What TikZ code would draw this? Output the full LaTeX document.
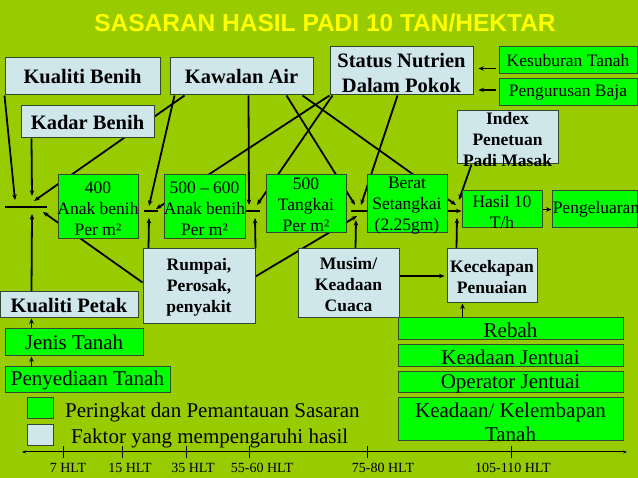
\documentclass[tikz,border=0pt]{standalone}
\usepackage{fontspec}
\setmainfont{Liberation Serif}
\newfontfamily\arialf{Liberation Sans}
\usetikzlibrary{calc,arrows.meta}
\pgfdeclarelayer{back}
\pgfdeclarelayer{lines}
\pgfsetlayers{back,lines,main}
\definecolor{bgc}{HTML}{99CC00}
\definecolor{gfill}{HTML}{00FF00}
\definecolor{bfill}{HTML}{CFE6EB}
\definecolor{edgec}{HTML}{2F4A2F}
\definecolor{ttl}{HTML}{FFFF00}
\begin{document}
\begin{tikzpicture}[x=1pt,y=-1pt,
  gbox/.style={draw=edgec, fill=gfill, line width=1pt, inner sep=0pt},
  bbox/.style={draw=edgec, fill=bfill, line width=1pt, inner sep=0pt},
  sz/.style 2 args={minimum width=#1pt, minimum height=#2pt},
  gt/.style={align=center, inner sep=0pt, font=\fontsize{17.5}{21}\selectfont},
  gtl/.style={align=center, inner sep=0pt, font=\fontsize{21}{24}\selectfont},
  bt/.style={align=center, inner sep=0pt, font=\bfseries\fontsize{20.5}{25}\selectfont},
  bts/.style={align=center, inner sep=0pt, font=\bfseries\fontsize{17.5}{21}\selectfont},
  con/.style={line width=1.8pt, black},
  arr/.style={con, -{Stealth[length=5.5pt,width=4.5pt]}},
  tick/.style={line width=1pt, black},
  tlab/.style={anchor=base, inner sep=0pt, font=\fontsize{14}{16}\selectfont},
]
\useasboundingbox (0,0) rectangle (638,478);
\begin{pgfonlayer}{back}
\fill[bgc] (0,0) rectangle (638,478);
\end{pgfonlayer}

% title
\node[font=\arialf\bfseries\fontsize{24.5}{28}\selectfont, text=ttl, inner sep=0pt] (title) at (325,23) {SASARAN HASIL PADI 10 TAN/HEKTAR};

% top factor boxes
\node[bbox,sz={155}{37}] (kb) at (82.5,76.5) {};
\node[bt] (kbT) at (kb.center) {Kualiti Benih};
\node[bbox,sz={143}{37}] (ka) at (241.5,76.5) {};
\node[bt] (kaT) at (ka.center) {Kawalan Air};
\node[bbox,sz={143}{48}] (sn) at (401.5,71) {};
\node[bt] (snT) at (401.5,73) {Status Nutrien\\Dalam Pokok};
\node[gbox,sz={138}{27}] (kt) at (568,60.5) {};
\node[gt] (ktT) at (kt.center) {Kesuburan Tanah};
\node[gbox,sz={138}{27}] (pb) at (568,92.5) {};
\node[gt] (pbT) at (pb.center) {Pengurusan Baja};
\node[bbox,sz={133}{32}] (kd) at (87.5,122) {};
\node[bt] (kdT) at (kd.center) {Kadar Benih};
\node[bbox,sz={101}{53}] (ip) at (507.5,137.5) {};
\node[bts] (ipT) at (507.5,140) {Index\\Penetuan\\Padi Masak};

% middle row
\node[gbox,sz={80}{64}] (b400) at (98,207) {};
\node[gt] (b400T) at (98,208.5) {400\\Anak benih\\Per m²};
\node[gbox,sz={81}{64}] (b560) at (204.5,207) {};
\node[gt] (b560T) at (204.5,208.5) {500 – 600\\Anak benih\\Per m²};
\node[gbox,sz={80}{58}] (b500) at (306,204) {};
\node[gt] (b500T) at (306,205) {500\\Tangkai\\Per m²};
\node[gbox,sz={80}{58}] (berat) at (407,204) {};
\node[gt] (beratT) at (407,206) {Berat\\Setangkai\\(2.25gm)};
\node[gbox,sz={80}{37}] (hasil) at (502,209.5) {};
\node[gt] (hasilT) at (502,212.5) {Hasil 10\\T/h};
\node[gbox,sz={85}{37}] (peng) at (594.5,209.5) {};
\node[gt] (pengT) at (596,209.5) {Pengeluaran};

% lower factor boxes
\node[bbox,sz={112}{75}] (rumpai) at (199,286.5) {};
\node[bts] (rumpaiT) at (199,287) {Rumpai,\\Perosak,\\penyakit};
\node[bbox,sz={101}{69}] (musim) at (348.5,283.5) {};
\node[bts] (musimT) at (348.5,285) {Musim/\\Keadaan\\Cuaca};
\node[bbox,sz={90}{54}] (kecek) at (492,276) {};
\node[bts] (kecekT) at (492,277.5) {Kecekapan\\Penuaian};
\node[bbox,sz={138}{26}] (kp) at (69,305) {};
\node[bt] (kpT) at (69,305.5) {Kualiti Petak};
\node[gbox,sz={138}{27}] (jt) at (74,342.5) {};
\node[gtl] (jtT) at (jt.center) {Jenis Tanah};
\node[gbox,sz={165}{26}] (pt) at (87.5,380) {};
\node[gtl] (ptT) at (pt.center) {Penyediaan Tanah};

% harvest boxes
\node[gbox,sz={225}{22}] (rebah) at (510.5,329) {};
\node[gtl] (rebahT) at (510.5,330) {Rebah};
\node[gbox,sz={225}{22}] (kj) at (510.5,356) {};
\node[gtl] (kjT) at (510.5,357) {Keadaan Jentuai};
\node[gbox,sz={225}{21}] (oj) at (510.5,382.5) {};
\node[gtl] (ojT) at (510.5,383.5) {Operator Jentuai};
\node[gbox,sz={225}{43}] (kk) at (510.5,419.5) {};
\node[gtl] (kkT) at (510.5,422) {Keadaan/ Kelembapan\\Tanah};

% legend
\node[gbox,sz={26}{21}] (lg) at (40,408.5) {};
\node[bbox,sz={26}{21}] (lb) at (40,435.5) {};
\node[anchor=base west, inner sep=0pt, font=\fontsize{21}{24}\selectfont] (lgT) at (65,418) {Peringkat dan Pemantauan Sasaran};
\node[anchor=base west, inner sep=0pt, font=\fontsize{21}{24}\selectfont] (lbT) at (71,444) {Faktor yang mempengaruhi hasil};

% junction coordinates
\coordinate (j1w) at (5,207);   \coordinate (j1e) at (47,207);
\coordinate (j1a) at (15,200);  \coordinate (j1b) at (32,196);
\coordinate (j1c) at (34,201);  \coordinate (j1d) at (43,212);
\coordinate (j1f) at (32,214);
\coordinate (j2w) at (144,211); \coordinate (j2e) at (158,211);
\coordinate (j2a) at (149,206); \coordinate (j2b) at (149,218);
\coordinate (j2c) at (156,209);
\coordinate (j3w) at (245,211); \coordinate (j3e) at (260,211);
\coordinate (j3a) at (249,205); \coordinate (j3b) at (257,205);
\coordinate (j3c) at (255,218);
\coordinate (j4w) at (351,211); \coordinate (j4e) at (367,211);
\coordinate (j4a) at (355,205); \coordinate (j4b) at (361,205);
\coordinate (j4c) at (356,220); \coordinate (j4d) at (357,216);
\coordinate (j5w) at (447,211);
\coordinate (j5a) at (456,205); \coordinate (j5b) at (459,200);
\coordinate (j5c) at (457,218);
\coordinate (tl0) at (22,452);  \coordinate (tl1) at (627,452);

\begin{pgfonlayer}{lines}
% junction bars
\draw[con] (j1w) -- (j1e);
\draw[con] (j2w) -- (j2e);
\draw[con] (j3w) -- (j3e);
\draw[con] (j4w) -- (j4e);
\draw[arr] (j5w) -- (hasil.west |- j5w);
% junction 1
\draw[arr] (kb.south west) -- (j1a);
\draw[arr] ($(kd.south west)+(11,0)$) -- (j1b);
\draw[arr] ($(ka.south west)+(15,0)$) -- (j1c);
\draw[arr] ($(rumpai.north west)+(0,34)$) -- (j1d);
\draw[arr] ($(kp.north west)+(32,0)$) -- (j1f);
% junction 2
\draw[arr] ($(ka.south west)+(5,0)$) -- (j2a);
\draw[arr] ($(rumpai.north west)+(6,0)$) -- (j2b);
\draw[arr] (sn.south west) -- (j2c);
% junction 3
\draw[arr] ($(ka.south west)+(79,0)$) -- (j3a);
\draw[arr] ($(sn.south west)+(3,0)$) -- (j3b);
\draw[arr] (rumpai.north east) -- (j3c);
% junction 4
\draw[arr] ($(ka.south west)+(117,0)$) -- (j4a);
\draw[arr] ($(sn.south west)+(68,0)$) -- (j4b);
\draw[arr] ($(musim.north west)+(58,0)$) -- (j4c);
\draw[arr] ($(rumpai.north east)+(0,28)$) -- (j4d);
% junction 5
\draw[arr] ($(ka.south west)+(133,0)$) -- (j5a);
\draw[arr] ($(ip.south west)+(15,0)$) -- (j5b);
\draw[arr] ($(kecek.north west)+(10,0)$) -- (j5c);
% other connectors
\draw[arr] (hasil.east) -- (peng.west);
\draw[arr, shorten >=2pt] (musim.east |- kecek.west) -- (kecek.west);
\draw[arr] ($(rebah.north west)+(65,0)$) -- ($(kecek.south west)+(16,0)$);
\draw[arr] ($(jt.north west)+(27,0)$) -- ($(kp.south west)+(32,0)$);
\draw[arr] ($(pt.north west)+(27,0)$) -- ($(jt.south west)+(27,0)$);
\draw[arr, shorten >=5pt, shorten <=3pt] ($(kt.west)+(0,8)$) -- ($(sn.east)+(0,-2.5)$);
\draw[arr, shorten >=5pt, shorten <=3pt] ($(pb.west)+(0,-2.5)$) -- ($(sn.east)+(0,19)$);
\end{pgfonlayer}

% timeline
\draw[line width=1pt, {Stealth[length=4pt,width=3pt]}-{Stealth[length=4pt,width=3pt]}] (tl0) -- (tl1);
\foreach \x in {63,122,186,249,367,511} \draw[tick] (\x,446) -- (\x,458);
\node[tlab] (t1) at (68,473) {7 HLT};
\node[tlab] (t2) at (130,473) {15 HLT};
\node[tlab] (t3) at (193,473) {35 HLT};
\node[tlab] (t4) at (262,473) {55-60 HLT};
\node[tlab] (t5) at (383,473) {75-80 HLT};
\node[tlab] (t6) at (513,473) {105-110 HLT};
\end{tikzpicture}
\end{document}
